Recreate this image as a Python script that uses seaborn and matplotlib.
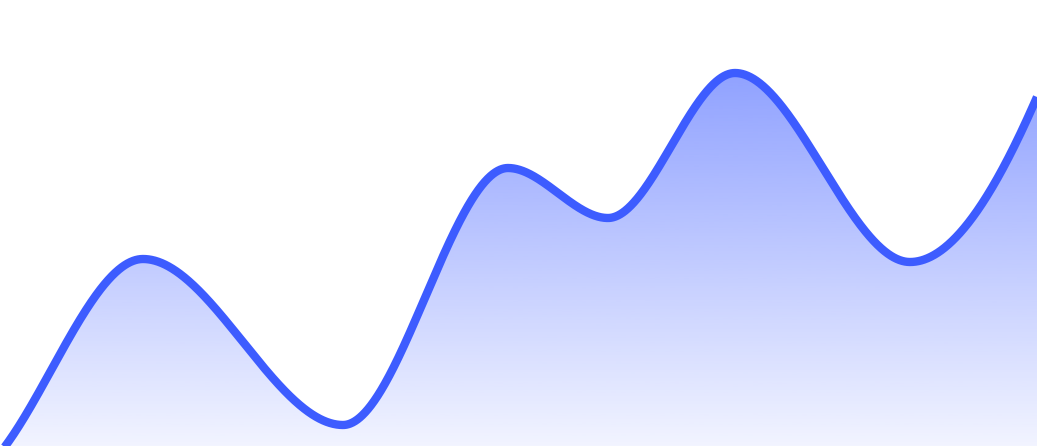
import numpy as np
import pandas as pd
import matplotlib
matplotlib.use("Agg")
import matplotlib.pyplot as plt
import seaborn as sns

# Data (x position, value)
x_points = [-120, -40, 143, 343, 508, 608, 735, 910, 1037]
y_points = [0, -34, 187, 21, 278, 228, 373, 184, 349]

LINE_COLOR = "#3D5CFF"


def pchip(x, y, xs):
    x = np.asarray(x, float)
    y = np.asarray(y, float)
    n = len(x)
    h = np.diff(x)
    d = np.diff(y) / h
    m = np.zeros(n)
    for k in range(1, n - 1):
        if d[k - 1] * d[k] <= 0:
            m[k] = 0.0
        else:
            w1 = 2 * h[k] + h[k - 1]
            w2 = h[k] + 2 * h[k - 1]
            m[k] = (w1 + w2) / (w1 / d[k - 1] + w2 / d[k])

    def end(h0, h1, d0, d1):
        v = ((2 * h0 + h1) * d0 - h0 * d1) / (h0 + h1)
        if np.sign(v) != np.sign(d0):
            return 0.0
        if np.sign(d0) != np.sign(d1) and abs(v) > 3 * abs(d0):
            return 3 * d0
        return v

    m[0] = end(h[0], h[1], d[0], d[1])
    m[-1] = end(h[-1], h[-2], d[-1], d[-2])
    idx = np.clip(np.searchsorted(x, xs) - 1, 0, n - 2)
    t = (xs - x[idx]) / h[idx]
    h00 = 2 * t**3 - 3 * t**2 + 1
    h10 = t**3 - 2 * t**2 + t
    h01 = -2 * t**3 + 3 * t**2
    h11 = t**3 - t**2
    return h00 * y[idx] + h10 * h[idx] * m[idx] + h01 * y[idx + 1] + h11 * h[idx] * m[idx + 1]


xs = np.linspace(x_points[0], x_points[-1], 2400)
ys = pchip(x_points, y_points, xs)
df = pd.DataFrame({"x": xs, "y": ys})

sns.set_style("white")
fig = plt.figure(figsize=(10.37, 4.46), dpi=100)
ax = fig.add_axes([0, 0, 1, 1])
ax.set_xlim(0, 1037)
ax.set_ylim(0, 446)
ax.axis("off")

# Gradient fill clipped to the area under the curve
poly = ax.fill_between(df["x"], df["y"], -60, color="none", linewidth=0)
top = max(y_points) + 5
ny = 256
alphas = np.linspace(0.07, 0.58, ny)[:, None]
rgb = np.array(matplotlib.colors.to_rgb(LINE_COLOR))
img = np.zeros((ny, 1, 4))
img[..., :3] = rgb
img[..., 3] = alphas
im = ax.imshow(img, extent=[-150, 1100, 0, top], origin="lower", aspect="auto",
               interpolation="bilinear", zorder=1)
im.set_clip_path(poly.get_paths()[0], transform=ax.transData)

sns.lineplot(data=df, x="x", y="y", ax=ax, color=LINE_COLOR, linewidth=6.0,
             sort=False, zorder=3)
for l in ax.get_lines():
    l.set_solid_capstyle("butt")
    l.set_solid_joinstyle("round")

ax.set_xlim(0, 1037)
ax.set_ylim(0, 446)
fig.savefig("out.png", dpi=100)
